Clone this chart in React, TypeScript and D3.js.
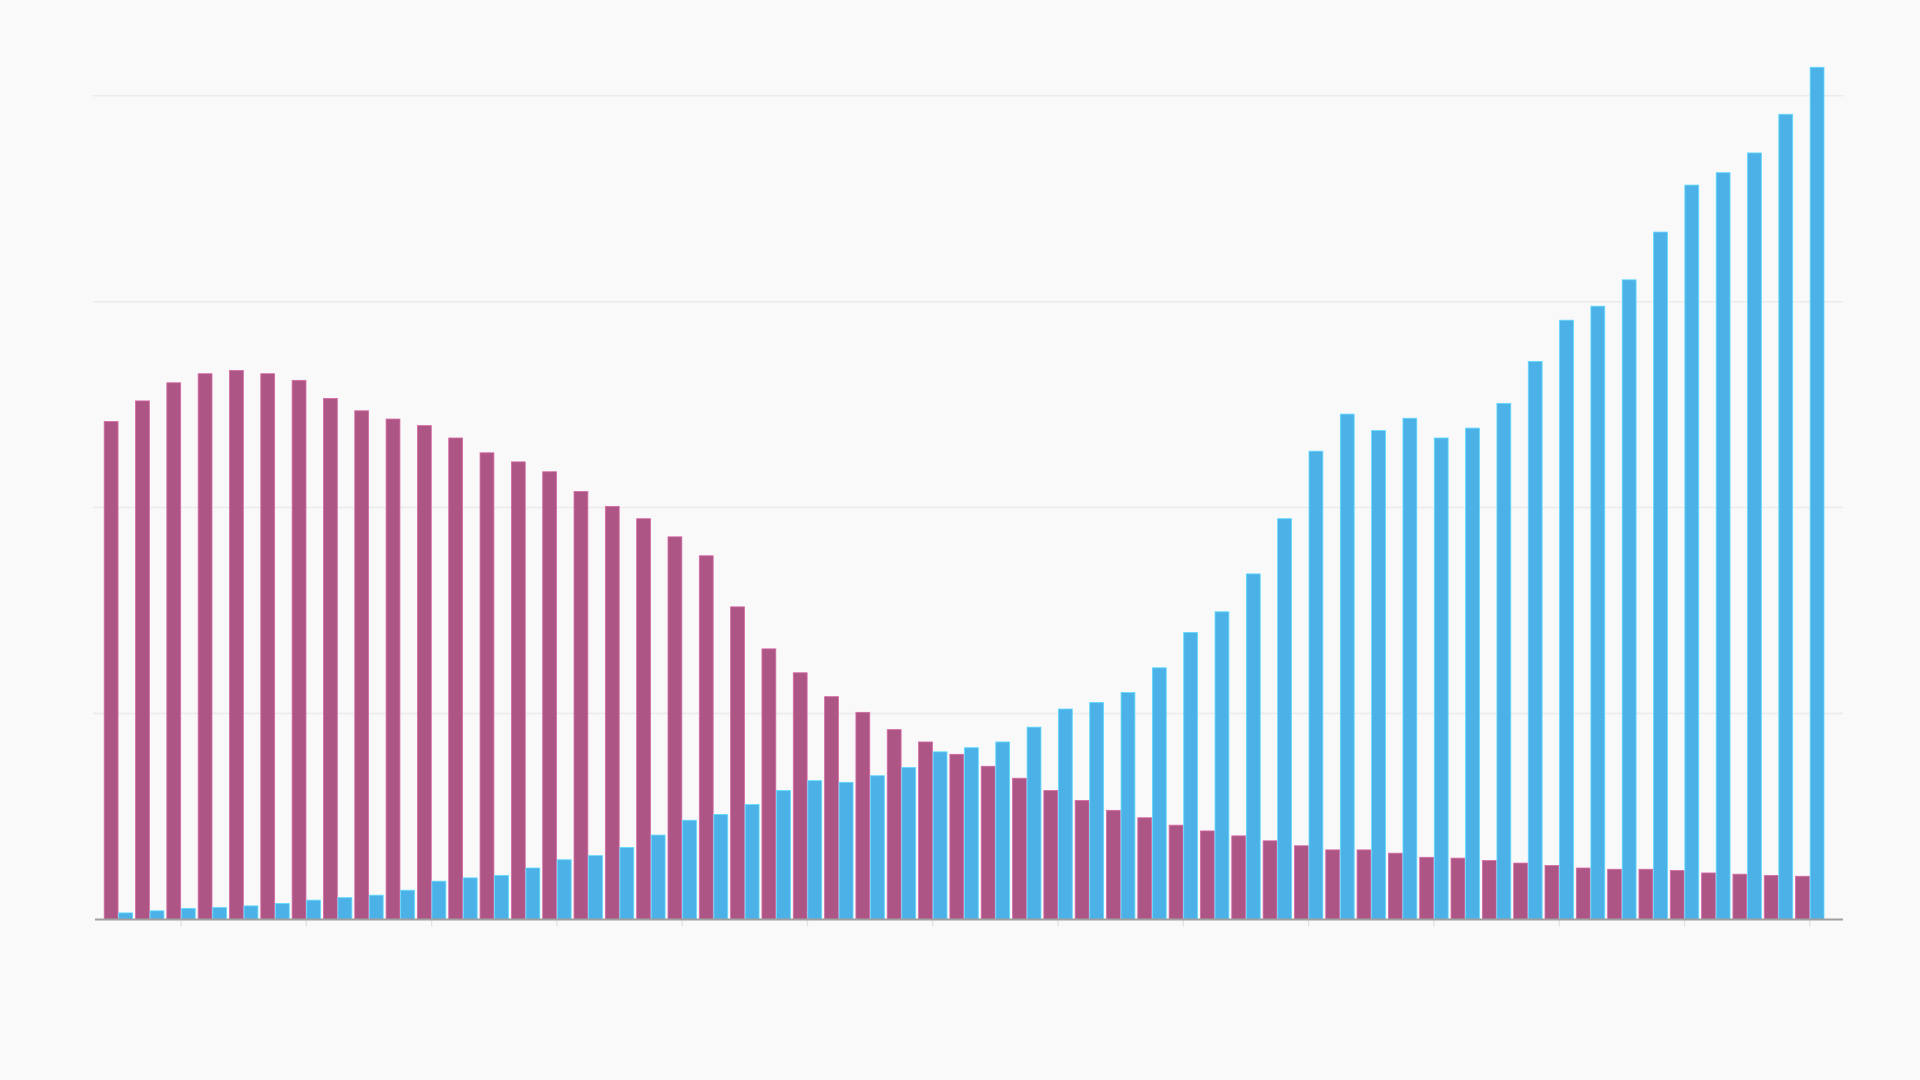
import React from "react";
import * as d3 from "d3";

// Category index (0..54) — no labels shown in the reference
const categories: number[] = d3.range(55);

const seriesA: number[] = [
  60.45, 62.95, 65.15, 66.25, 66.65, 66.25, 65.45, 63.25, 61.75, 60.75,
  59.95, 58.45, 56.65, 55.55, 54.35, 51.95, 50.15, 48.65, 46.45, 44.15,
  37.95, 32.85, 29.95, 27.05, 25.15, 23.05, 21.55, 20.05, 18.6, 17.15,
  15.65, 14.45, 13.25, 12.35, 11.45, 10.75, 10.15, 9.55, 8.95, 8.45,
  8.45, 8.05, 7.55, 7.45, 7.15, 6.85, 6.55, 6.25, 6.1, 6.1,
  5.95, 5.65, 5.5, 5.35, 5.25,
];

const seriesB: number[] = [
  0.8, 1.05, 1.35, 1.45, 1.65, 1.95, 2.35, 2.65, 2.95, 3.55,
  4.65, 5.05, 5.35, 6.25, 7.25, 7.75, 8.75, 10.25, 12.05, 12.75,
  13.95, 15.65, 16.85, 16.65, 17.45, 18.45, 20.35, 20.85, 21.55, 23.35,
  25.55, 26.35, 27.55, 30.55, 34.85, 37.35, 41.95, 48.65, 56.85, 61.35,
  59.35, 60.85, 58.45, 59.65, 62.65, 67.75, 72.75, 74.45, 77.65, 83.45,
  89.15, 90.65, 93.05, 97.75, 103.45,
];

const yTicks: number[] = [25, 50, 75, 100];
const xTickIdx: number[] = d3.range(2, 55, 4);

const COLORS = ["#ad5585", "#4cb1e7"];

export default function App() {
  const W = 1920;
  const H = 1080;
  const left = 95;
  const right = 1843;
  const base = 919.5;
  const top = 95.7;

  const x = d3.scaleLinear().domain([-0.747, 55.06]).range([left, right]);
  const y = d3.scaleLinear().domain([0, 100]).range([base, top]);
  const groupW = 28.4;
  const x1 = d3.scaleBand<string>().domain(["a", "b"]).range([-groupW / 2, groupW / 2]).paddingInner(0.05);

  const series = [seriesA, seriesB];
  const keys = ["a", "b"];

  return (
    <div style={{ position: "fixed", left: 0, top: 0, width: W, height: H, background: "#f9f9f9" }}>
      <svg width={W} height={H} style={{ display: "block" }}>
        <rect x={0} y={0} width={W} height={H} fill="#f9f9f9" />
        {yTicks.map((t) => (
          <line key={t} x1={93} x2={right} y1={y(t)} y2={y(t)} stroke="#ebebeb" strokeWidth={1.5} />
        ))}
        {xTickIdx.map((i) => (
          <line key={i} x1={x(i)} x2={x(i)} y1={base} y2={base + 7} stroke="#e2e2e2" strokeWidth={1.2} />
        ))}
        {series.map((vals, s) =>
          categories.map((c) => {
            const v = vals[c];
            const bx = x(c) + (x1(keys[s]) as number);
            const bw = x1.bandwidth();
            const fill = COLORS[s];
            return (
              <rect
                key={`${s}-${c}`}
                x={bx}
                y={y(v)}
                width={bw}
                height={base - y(v)}
                fill={fill}
                stroke={d3.color(fill)!.brighter(0.6).formatHex()}
                strokeWidth={0.8}
              />
            );
          })
        )}
        <line x1={left} x2={right} y1={base} y2={base} stroke="#a0a0a0" strokeWidth={2} />
      </svg>
    </div>
  );
}
